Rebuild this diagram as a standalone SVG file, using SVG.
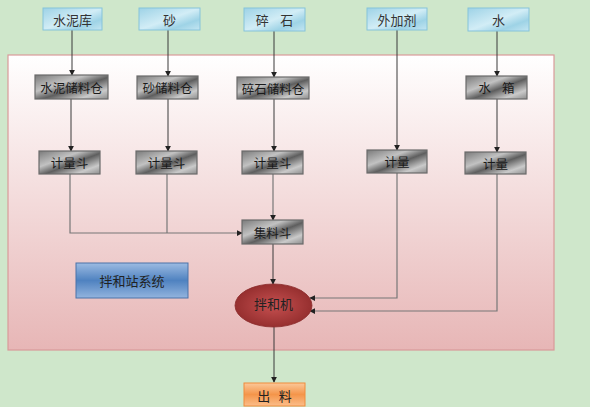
<svg xmlns="http://www.w3.org/2000/svg" width="590" height="407" viewBox="0 0 590 407">
<defs>
<linearGradient id="gPanel" x1="0" y1="0" x2="0" y2="1">
<stop offset="0" stop-color="#ffffff"/>
<stop offset="1" stop-color="#e7b6b6"/>
</linearGradient>
<linearGradient id="gTop" x1="0" y1="0" x2="1" y2="1">
<stop offset="0" stop-color="#9dd2e6"/>
<stop offset="0.5" stop-color="#d2edf6"/>
<stop offset="0.75" stop-color="#9ed3e6"/>
<stop offset="1" stop-color="#c4e6f2"/>
</linearGradient>
<linearGradient id="gGray" x1="0" y1="0" x2="1" y2="1">
<stop offset="0" stop-color="#7a7a7a"/>
<stop offset="0.35" stop-color="#c2c2c2"/>
<stop offset="0.55" stop-color="#5e5e5e"/>
<stop offset="0.8" stop-color="#cacaca"/>
<stop offset="1" stop-color="#8c8c8c"/>
</linearGradient>
<linearGradient id="gBlue" x1="0" y1="0" x2="0" y2="1">
<stop offset="0" stop-color="#9cbbe2"/>
<stop offset="0.5" stop-color="#4f82c0"/>
<stop offset="1" stop-color="#93b4de"/>
</linearGradient>
<linearGradient id="gOrange" x1="0" y1="0" x2="0" y2="1">
<stop offset="0" stop-color="#fbc89a"/>
<stop offset="0.5" stop-color="#f4954a"/>
<stop offset="1" stop-color="#fbbe8a"/>
</linearGradient>
<radialGradient id="gRed" cx="0.5" cy="0.5" r="0.5">
<stop offset="0" stop-color="#c65050"/>
<stop offset="1" stop-color="#962f2f"/>
</radialGradient>
<marker id="arr" viewBox="0 0 8 8" refX="7" refY="4" markerWidth="6" markerHeight="6" orient="auto" markerUnits="userSpaceOnUse">
<path d="M0,0 L8,4 L0,8 z" fill="#222"/>
</marker>
</defs>
<style>
.top{fill:url(#gTop);stroke:#86c3da;stroke-width:1}
.gray{fill:url(#gGray);stroke:#6a6a6a;stroke-width:1.2}
.t{font-family:"Noto Sans CJK SC","Noto Sans CJK JP",sans-serif;font-size:13px;fill:#333;text-anchor:middle;dominant-baseline:central}
.tg{font-family:"Noto Sans CJK SC","Noto Sans CJK JP",sans-serif;font-size:12.5px;fill:#1a1a1a;text-anchor:middle;dominant-baseline:central}
.ln{fill:none;stroke:#3a3a3a;stroke-width:1}
.lg{fill:none;stroke:#777;stroke-width:1.2}
</style>
<rect x="0" y="0" width="590" height="407" fill="#cfe7cb"/>
<g id="panel">
<rect x="8" y="55" width="546" height="295" fill="url(#gPanel)" stroke="#d99a9a" stroke-width="1.2"/>
</g>
<g id="connectors">
<path class="ln" d="M72,30 V75" marker-end="url(#arr)"/>
<path class="ln" d="M168,30 V76" marker-end="url(#arr)"/>
<path class="ln" d="M274,31 V77" marker-end="url(#arr)"/>
<path class="ln" d="M497,31 V76" marker-end="url(#arr)"/>
<path class="ln" d="M71,99 V151" marker-end="url(#arr)"/>
<path class="ln" d="M168,99 V151" marker-end="url(#arr)"/>
<path class="ln" d="M274,99 V151" marker-end="url(#arr)"/>
<path class="ln" d="M397,30 V150" marker-end="url(#arr)"/>
<path class="ln" d="M497,99 V152" marker-end="url(#arr)"/>
<path class="lg" d="M70,174 V233 H242" marker-end="url(#arr)"/>
<path class="lg" d="M167,174 V233"/>
<path class="lg" d="M273,174 V220" marker-end="url(#arr)"/>
<path class="ln" d="M273,244 V284" marker-end="url(#arr)"/>
<path class="lg" d="M397,173 V298 H310" marker-end="url(#arr)"/>
<path class="lg" d="M497,174 V311 H310" marker-end="url(#arr)"/>
<path class="ln" d="M274,327 V382" marker-end="url(#arr)"/>
</g>
<g id="n-cement"><rect class="top" x="43" y="8" width="59" height="22"/><text class="t" x="72.5" y="19">水泥库</text></g>
<g id="n-sand"><rect class="top" x="139" y="8" width="61" height="22"/><text class="t" x="169.5" y="19">砂</text></g>
<g id="n-stone"><rect class="top" x="244" y="8" width="61" height="23"/><text class="t" x="274.5" y="19.5" xml:space="preserve">碎    石</text></g>
<g id="n-admix"><rect class="top" x="367" y="8" width="60" height="22"/><text class="t" x="397" y="19">外加剂</text></g>
<g id="n-water"><rect class="top" x="468" y="8" width="61" height="23"/><text class="t" x="498.5" y="19.5">水</text></g>
<g id="n-cement-silo"><rect class="gray" x="35" y="75" width="73" height="24"/><text class="tg" x="71.5" y="87">水泥储料仓</text></g>
<g id="n-sand-silo"><rect class="gray" x="137" y="76" width="61" height="23"/><text class="tg" x="167.5" y="87.5">砂储料仓</text></g>
<g id="n-stone-silo"><rect class="gray" x="237" y="77" width="72" height="22"/><text class="tg" x="273" y="88">碎石储料仓</text></g>
<g id="n-water-tank"><rect class="gray" x="466" y="76" width="61" height="23"/><text class="tg" x="496.5" y="87.5" xml:space="preserve">水    箱</text></g>
<g id="n-meter1"><rect class="gray" x="39" y="151" width="61" height="23"/><text class="tg" x="69.5" y="162.5">计量斗</text></g>
<g id="n-meter2"><rect class="gray" x="136" y="151" width="61" height="23"/><text class="tg" x="166.5" y="162.5">计量斗</text></g>
<g id="n-meter3"><rect class="gray" x="242" y="151" width="61" height="23"/><text class="tg" x="272.5" y="162.5">计量斗</text></g>
<g id="n-meter4"><rect class="gray" x="367" y="150" width="60" height="23"/><text class="tg" x="397" y="161.5">计量</text></g>
<g id="n-meter5"><rect class="gray" x="465" y="152" width="61" height="22"/><text class="tg" x="495.5" y="163">计量</text></g>
<g id="n-hopper"><rect class="gray" x="242" y="220" width="61" height="24"/><text class="tg" x="272.5" y="232">集料斗</text></g>
<g id="n-system"><rect x="76" y="263" width="112" height="35" fill="url(#gBlue)" stroke="#4a72a8" stroke-width="1"/><text class="t" x="132" y="280.5" style="fill:#222">拌和站系统</text></g>
<g id="n-mixer"><ellipse cx="273.5" cy="305.5" rx="38.5" ry="21.5" fill="url(#gRed)" stroke="#8a2a2a" stroke-width="0.8"/><text class="t" x="273.5" y="303" style="fill:#222">拌和机</text></g>
<g id="n-output"><rect x="244" y="383" width="61" height="23" fill="url(#gOrange)" stroke="#f08c3c" stroke-width="1"/><text class="t" x="274.5" y="395" xml:space="preserve" style="fill:#222">出   料</text></g>
</svg>
